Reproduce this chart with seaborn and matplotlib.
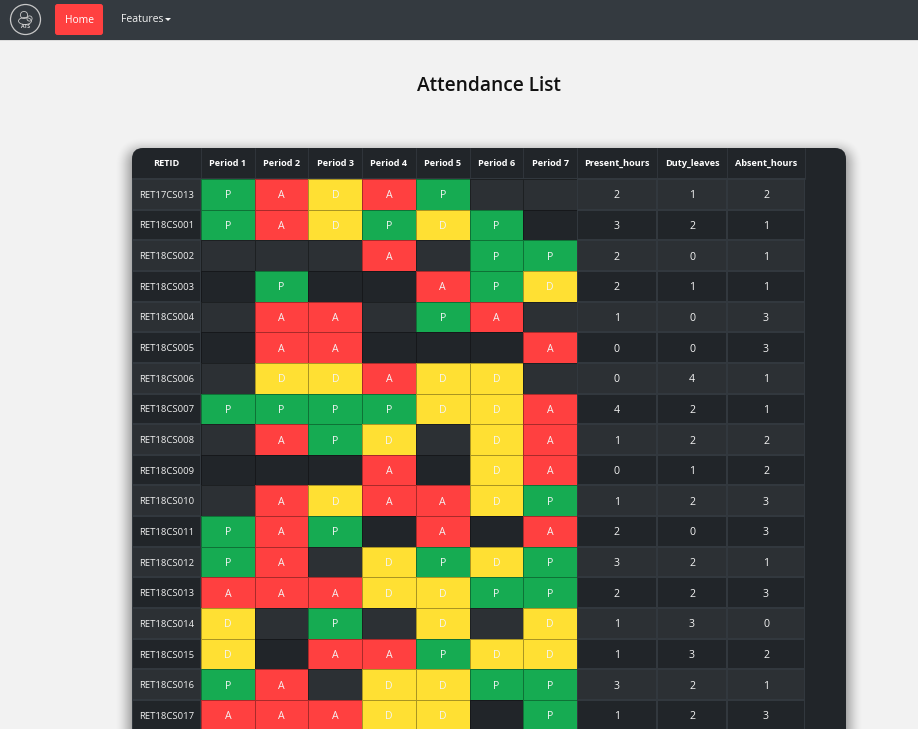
import numpy as np
import pandas as pd
import seaborn as sns
import matplotlib
matplotlib.use("Agg")
import matplotlib.pyplot as plt
from matplotlib.colors import ListedColormap
from matplotlib.patches import FancyBboxPatch, Rectangle, Circle, Ellipse

sns.set_theme(style="white")
plt.rcParams["font.family"] = ["Open Sans", "DejaVu Sans"]

W, H = 918, 729
retids = ["RET17CS013", "RET18CS001", "RET18CS002", "RET18CS003", "RET18CS004", "RET18CS005",
          "RET18CS006", "RET18CS007", "RET18CS008", "RET18CS009", "RET18CS010", "RET18CS011",
          "RET18CS012", "RET18CS013", "RET18CS014", "RET18CS015", "RET18CS016", "RET18CS017"]
periods = ["Period 1", "Period 2", "Period 3", "Period 4", "Period 5", "Period 6", "Period 7"]
marks = ["PADAP__", "PADPDP_", "___A_PP", "_P__APD", "_AA_PA_", "_AA___A",
         "_DDADD_", "PPPPDDA", "_APD_DA", "___A_DA", "_ADAADP", "PAP_A_A",
         "PA_DPDP", "AAADDPP", "D_P_D_D", "D_AAPDD", "PA_DDPP", "AAADD_P"]
present_hours = [2, 3, 2, 2, 1, 0, 0, 4, 1, 0, 1, 2, 3, 2, 1, 1, 3, 1]
duty_leaves = [1, 2, 0, 1, 0, 0, 4, 2, 2, 1, 2, 0, 2, 2, 3, 3, 2, 2]
absent_hours = [2, 1, 1, 1, 3, 3, 1, 1, 2, 2, 3, 3, 1, 3, 0, 2, 1, 3]

DARK, LIGHT = "#212529", "#2c3034"
GREEN, RED, YELLOW = "#16ab52", "#ff4040", "#ffe033"
GRID = "#32383e"
TOP, ROW_H = 179, 30.65
n = len(retids)

fig = plt.figure(figsize=(W / 100, H / 100), dpi=100, facecolor="#f2f2f2")
bg = fig.add_axes([0, 0, 1, 1])
bg.set_xlim(0, W); bg.set_ylim(H, 0); bg.axis("off")

# navbar
bg.add_patch(Rectangle((0, 0), W, 40, fc="#343a40", ec="none"))
bg.add_patch(Rectangle((0, 40), W, 1, fc="#dcdcdc", ec="none"))
bg.add_patch(FancyBboxPatch((55, 4), 48, 31, boxstyle="round,pad=0,rounding_size=2.5", fc=RED, ec="none"))
bg.text(79, 20.5, "Home", color="white", fontsize=7.4, ha="center", va="center")
bg.text(121.5, 19.5, "Features", color="#f2f2f2", fontsize=7.6, ha="left", va="center")
bg.fill([165, 171, 168], [18, 18, 21], color="#f2f2f2", lw=0)
bg.add_patch(Circle((25.5, 19.5), 15, fc="none", ec="#c8c8c8", lw=0.9))
bg.add_patch(Circle((24, 15), 3.6, fc="none", ec="#c8c8c8", lw=0.6))
bg.add_patch(Ellipse((25, 21), 13, 7, fc="none", ec="#c8c8c8", lw=0.6))
bg.add_patch(Circle((29.5, 18.5), 2.6, fc="none", ec="#c8c8c8", lw=0.6))
bg.text(25.5, 26.5, "ATS", color="#d8d8d8", fontsize=3.8, ha="center", va="center", weight="bold")

bg.text(489, 86, "Attendance List", color="#111111", fontsize=13.8, ha="center", va="center", weight=600)

# table card with soft shadow
for i, a in zip(range(16, 0, -1), np.linspace(0.004, 0.035, 16)):
    bg.add_patch(FancyBboxPatch((132 - i, 148 - i + 6), 714 + 2 * i, 640,
                                boxstyle=f"round,pad=0,rounding_size={12 + i}", fc="black", ec="none", alpha=a))
bg.add_patch(FancyBboxPatch((132, 148), 714, 640, boxstyle="round,pad=0,rounding_size=11", fc=DARK, ec="none"))
bg.add_patch(Rectangle((132, 178), 673, 1.2, fc=GRID, ec="none"))

def grid_axes(x0, x1):
    return fig.add_axes([x0 / W, 1 - (TOP + n * ROW_H) / H, (x1 - x0) / W, n * ROW_H / H])

stripe = np.arange(n) % 2  # 0 = lighter row, 1 = darker row
stripe_cmap = ListedColormap([LIGHT, DARK])
id_kws = dict(color="#f0f0f0", fontsize=6.8, va="center_baseline")
kws = dict(color="#f4f4f4", fontsize=7.6, va="center_baseline")
head = dict(color="white", fontsize=6.6, weight="bold", ha="center", va="center")

# text columns: one single-column heatmap each, since widths differ
columns = [("RETID", 132, 201, retids),
           ("Present_hours", 577, 657, present_hours),
           ("Duty_leaves", 657, 727, duty_leaves),
           ("Absent_hours", 727, 805, absent_hours)]
for name, x0, x1, vals in columns:
    ax = grid_axes(x0, x1)
    sns.heatmap(pd.DataFrame({name: stripe}, index=retids), ax=ax, cmap=stripe_cmap, vmin=0, vmax=1, cbar=False,
                annot=np.array(vals, dtype=str).reshape(-1, 1), fmt="",
                annot_kws=id_kws if name == "RETID" else kws,
                linewidths=0.3, linecolor=GRID, xticklabels=False, yticklabels=False)
    ax.set_xlabel(""); ax.set_ylabel("")
    bg.text((x0 + x1) / 2, 163.5, name, **head)
    bg.plot([x1, x1], [148, 179], color=GRID, lw=0.6)

# period cells
cell_code = {"A": 2, "P": 3, "D": 4}
codes = np.array([[cell_code.get(c, stripe[r]) for c in row] for r, row in enumerate(marks)])
labels = np.array([[c.replace("_", "") for c in row] for row in marks])
ax = grid_axes(201, 577)
sns.heatmap(pd.DataFrame(codes, index=retids, columns=periods), ax=ax,
            cmap=ListedColormap([LIGHT, DARK, RED, GREEN, YELLOW]), vmin=-0.5, vmax=4.5, cbar=False,
            annot=labels, fmt="", annot_kws=kws, linewidths=0.4, linecolor="#00000055",
            xticklabels=False, yticklabels=False)
ax.set_xlabel(""); ax.set_ylabel("")
for i, p in enumerate(periods):
    x0 = 201 + i * 376 / 7
    bg.text(x0 + 188 / 7, 163.5, p, **head)
    bg.plot([x0 + 376 / 7] * 2, [148, 179], color=GRID, lw=0.6)

fig.savefig("out.png", dpi=100, facecolor=fig.get_facecolor())
